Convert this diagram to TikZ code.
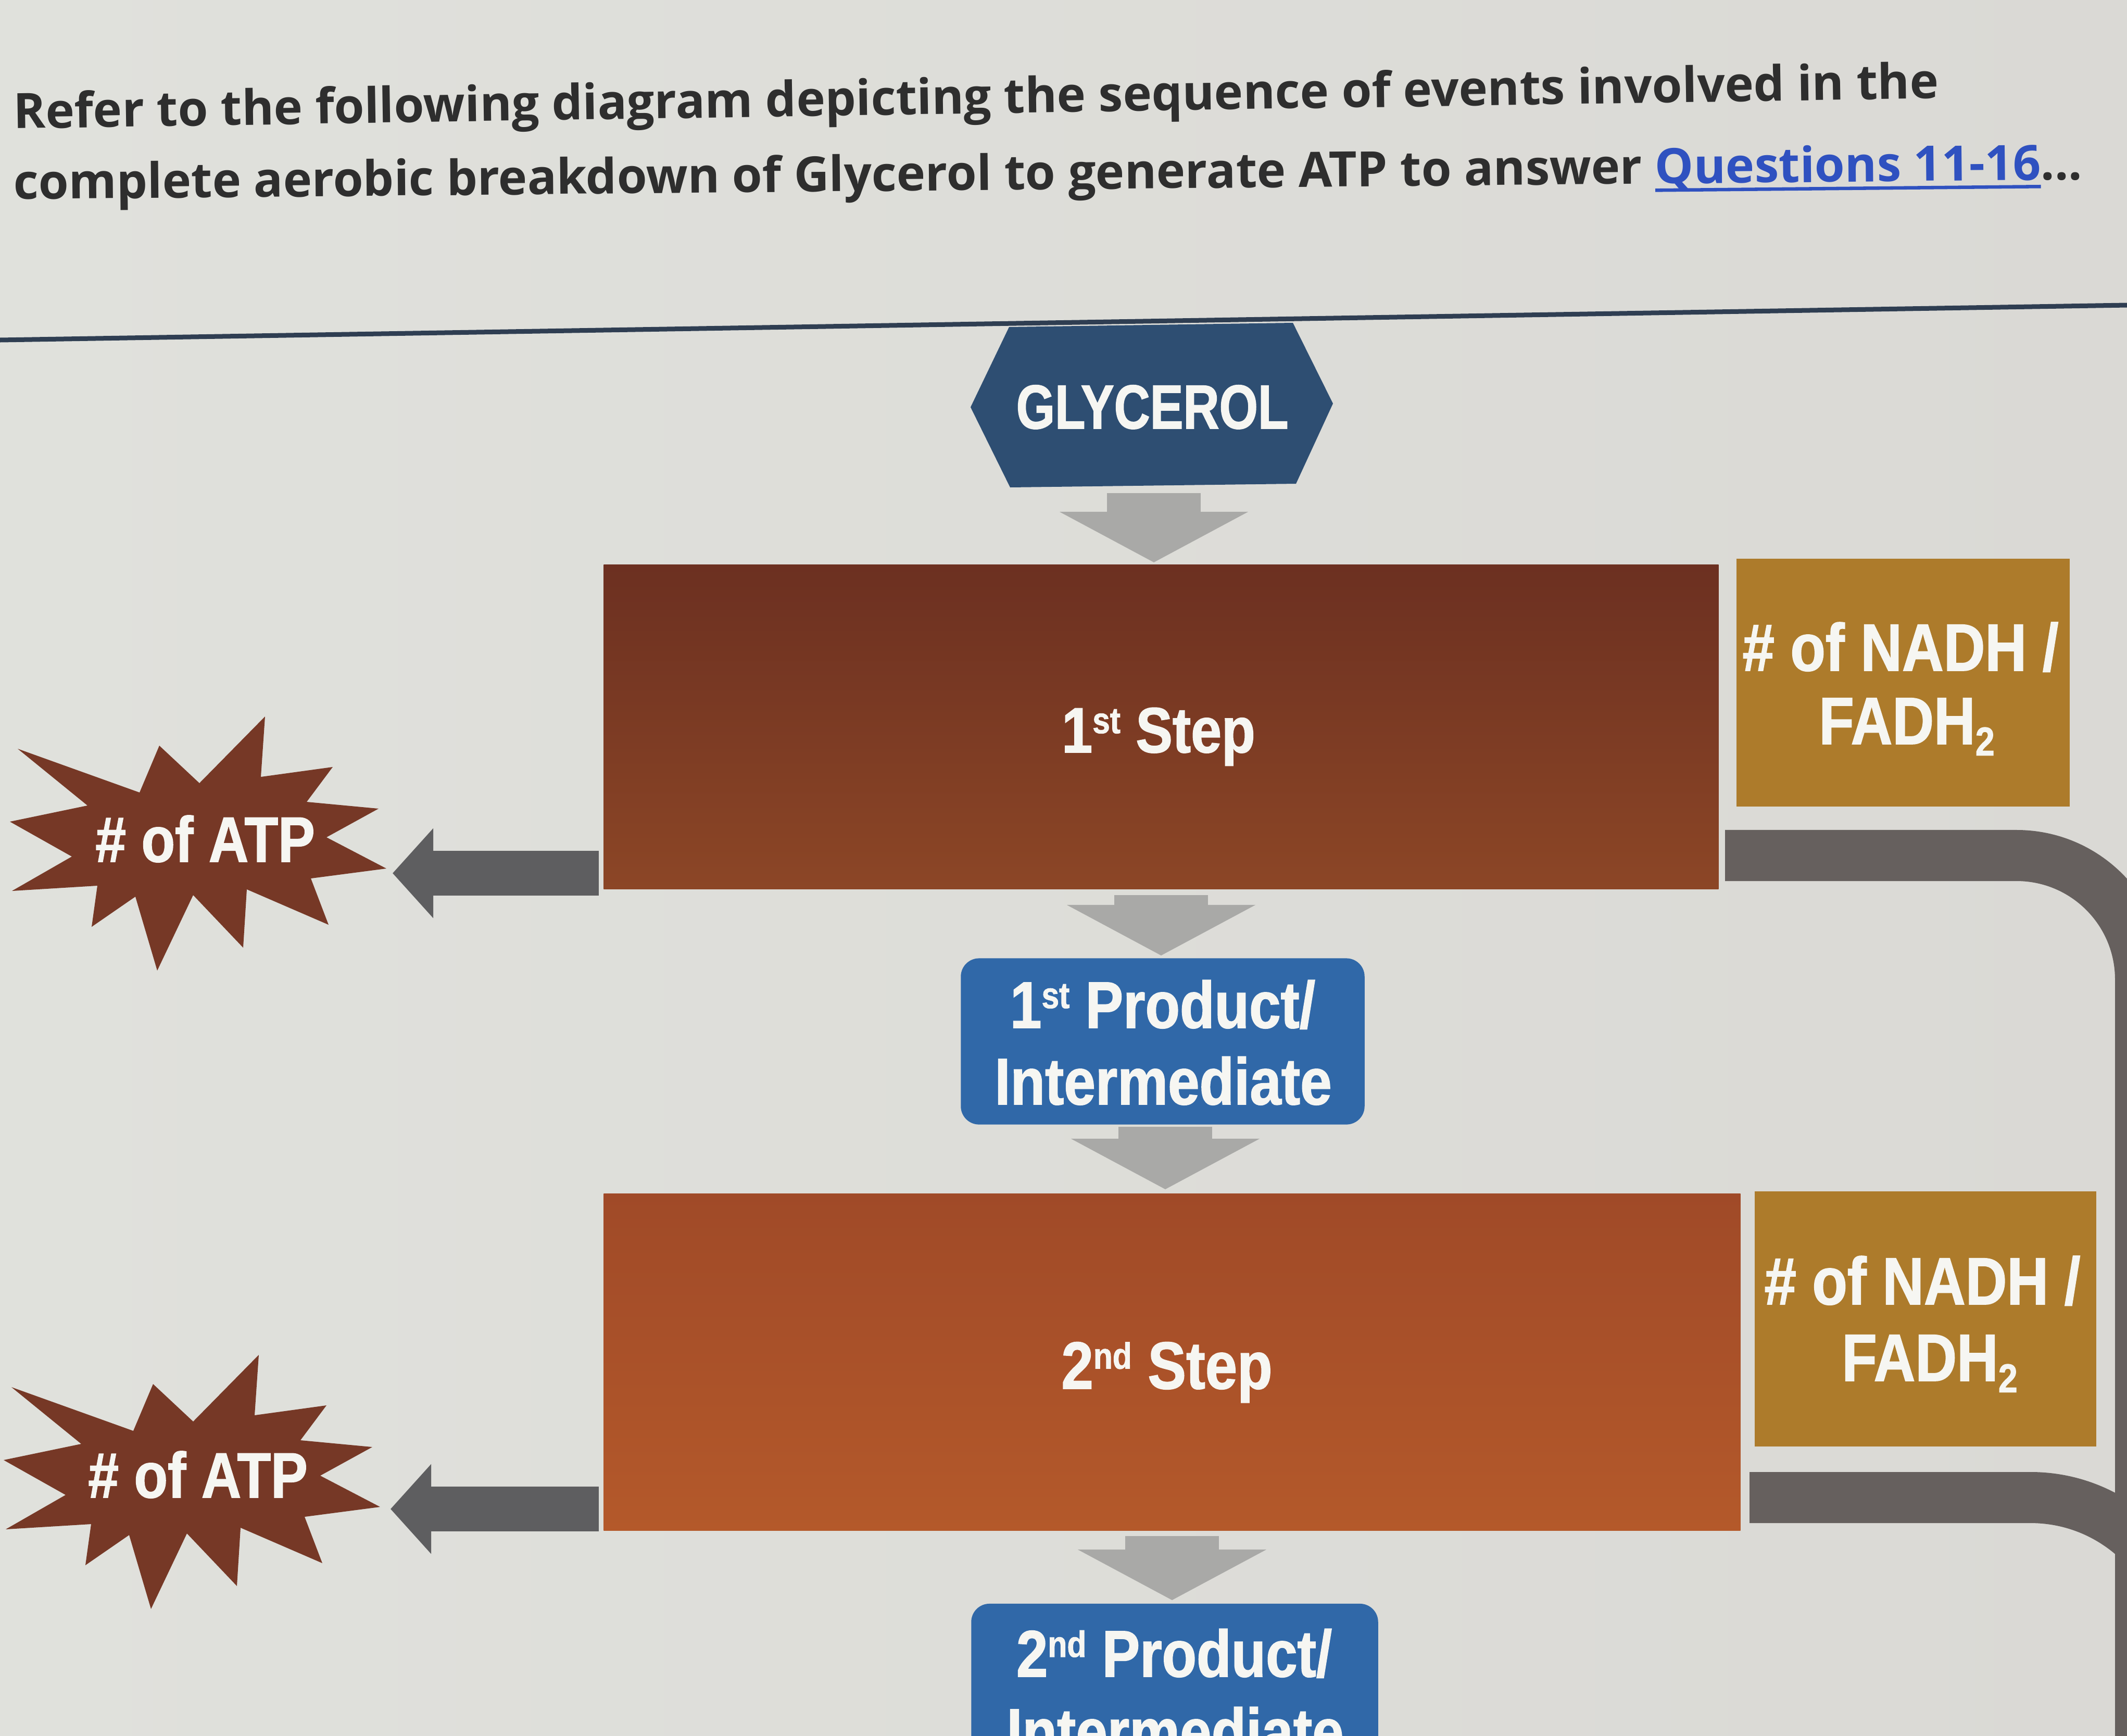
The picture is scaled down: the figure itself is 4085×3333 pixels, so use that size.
\documentclass[tikz,border=0pt]{standalone}
\usepackage{fontspec}
\setmainfont{Liberation Sans}
\newfontfamily\cf[FakeStretch=0.86,FakeBold=1.3]{Liberation Sans}
\newfontfamily\cfg[FakeStretch=0.80,FakeBold=1.3]{Liberation Sans}
\newfontfamily\tf{Open Sans}
\usetikzlibrary{arrows.meta}
\definecolor{bgL}{HTML}{E0E1DC}
\definecolor{bgM}{HTML}{EAEBE7}
\definecolor{bgR}{HTML}{DAD9D5}
\definecolor{tgray}{HTML}{2E2E2E}
\definecolor{linkblue}{HTML}{2F51C0}
\definecolor{navy}{HTML}{2F3E52}
\definecolor{glyc}{HTML}{2E4E72}
\definecolor{s1t}{HTML}{6C3021}
\definecolor{s1b}{HTML}{8C4626}
\definecolor{s2t}{HTML}{A04A28}
\definecolor{s2b}{HTML}{B4592A}
\definecolor{mustard}{HTML}{AD7B2B}
\definecolor{prodblue}{HTML}{3068A8}
\definecolor{arrgray}{HTML}{A9A9A7}
\definecolor{darkarr}{HTML}{5E5E60}
\definecolor{conngray}{HTML}{66605E}
\definecolor{starbrown}{HTML}{763826}
\definecolor{wtext}{HTML}{F6F6F2}
\newcommand\sups[1]{\raisebox{0.3em}{\fontsize{20}{20}\selectfont #1}}
\newcommand\subs[1]{\raisebox{-0.17em}{\fontsize{22}{22}\selectfont #1}}
\newcommand\myul[1]{\sbox0{#1}\rlap{\rule[-0.17em]{\wd0}{0.07em}}\usebox0}
\tikzset{
  titletext/.style={font=\tf\bfseries\fontsize{26.6}{32}\selectfont, text=tgray, inner sep=0pt, anchor=base west},
  lbl/.style={font=\cf\bfseries\fontsize{35}{40}\selectfont, text=wtext, inner sep=0pt, anchor=base},
  lblb/.style={font=\cf\bfseries\fontsize{36.5}{42}\selectfont, text=wtext, inner sep=0pt, anchor=base},
  stepbox/.style={draw=none, inner sep=0pt},
  nadhbox/.style={fill=mustard, inner sep=0pt},
  prodbox/.style={fill=prodblue, rounded corners=0.35cm, inner sep=0pt},
  darr/.style={draw=arrgray, line width=1.8cm, line cap=butt, -{Triangle[length=0.97cm, width=3.58cm]}},
  larr/.style={draw=darkarr, line width=0.86cm, line cap=butt, -{Triangle[length=0.78cm, width=1.68cm]}},
  conn/.style={draw=conngray, line width=0.98cm, line cap=butt},
  star/.style={fill=starbrown}
}
\begin{document}
\begin{tikzpicture}[x=0.01cm,y=-0.01cm]
\useasboundingbox (0,0) rectangle (4085,3333);
\clip (0,0) rectangle (4085,3333);
\shade[left color=bgL, middle color=bgM, right color=bgR] (0,0) rectangle (4085,3333);

% title
\node[titletext, rotate=0.9] (t1) at (26,247) {Refer to the following diagram depicting the sequence of events involved in the};
\node[titletext, rotate=0.55] (t2) at (26,383) {complete aerobic breakdown of Glycerol to generate ATP to answer {\color{linkblue}\myul{Questions 11-16}}...};

% separator line
\coordinate (sepL) at (0,653);
\coordinate (sepR) at (4085,586);
\draw[navy, line width=0.09cm] (sepL) -- (sepR);

% glycerol hexagon
\fill[glyc] (1938,628) -- (2483,620) -- (2560,775) -- (2489,929) -- (1940,936) -- (1864,782) -- cycle;
\node[lbl, font=\cfg\bfseries\fontsize{34}{40}\selectfont] (gly) at (2213,823) {GLYCEROL};

% step 1
\node[stepbox, top color=s1t, bottom color=s1b, minimum width=21.4cm, minimum height=6.23cm] (step1) at (2230,1396) {};
\node[lbl] (step1l) at (2225,1445) {1\sups{st} Step};

% NADH 1
\node[nadhbox, minimum width=6.39cm, minimum height=4.76cm] (nadh1) at (3655,1311) {};
\node[lblb] (nadh1a) at (3650,1288) {\# of NADH /};
\node[lblb] (nadh1b) at (3662,1429) {FADH\subs{2}};

% product 1
\node[prodbox, minimum width=7.75cm, minimum height=3.19cm] (prod1) at (2233,2000) {};
\node[lblb, font=\cf\bfseries\fontsize{36}{42}\selectfont] (prod1a) at (2233,1974) {1\sups{st} Product/};
\node[lblb, font=\cf\bfseries\fontsize{36}{42}\selectfont] (prod1b) at (2234,2121) {Intermediate};

% step 2
\node[stepbox, top color=s2t, bottom color=s2b, minimum width=21.82cm, minimum height=6.47cm] (step2) at (2251,2616) {};
\node[lblb] (step2l) at (2241,2667) {2\sups{nd} Step};

% NADH 2
\node[nadhbox, minimum width=6.56cm, minimum height=4.9cm] (nadh2) at (3698,2533) {};
\node[lblb] (nadh2a) at (3692,2505) {\# of NADH /};
\node[lblb] (nadh2b) at (3706,2652) {FADH\subs{2}};

% product 2
\node[prodbox, minimum width=7.81cm, minimum height=3.4cm] (prod2) at (2256,3250) {};
\node[lblb, font=\cf\bfseries\fontsize{36}{42}\selectfont] (prod2a) at (2255,3220) {2\sups{nd} Product/};
\node[lblb, font=\cf\bfseries\fontsize{36}{42}\selectfont] (prod2b) at (2257,3370) {Intermediate};

% stars
\fill[star] (509,1376) -- (501,1492) -- (639,1473) -- (589,1540) -- (727,1553) -- (627,1608) -- (742,1668) -- (597,1687) -- (631,1776) -- (474,1708) -- (467,1820) -- (371,1719) -- (302,1864) -- (260,1722) -- (176,1780) -- (187,1701) -- (23,1711) -- (138,1645) -- (19,1578) -- (168,1547) -- (34,1438) -- (268,1522) -- (306,1432) -- (383,1504) -- cycle;
\node[lbl] (atp1) at (394,1655) {\# of ATP};
\begin{scope}[shift={(-12,1226)}]
\fill[star] (509,1376) -- (501,1492) -- (639,1473) -- (589,1540) -- (727,1553) -- (627,1608) -- (742,1668) -- (597,1687) -- (631,1776) -- (474,1708) -- (467,1820) -- (371,1719) -- (302,1864) -- (260,1722) -- (176,1780) -- (187,1701) -- (23,1711) -- (138,1645) -- (19,1578) -- (168,1547) -- (34,1438) -- (268,1522) -- (306,1432) -- (383,1504) -- cycle;
\end{scope}
\node[lbl] (atp2) at (380,2876) {\# of ATP};

% down arrows
\coordinate (a1s) at (2216,947);  \coordinate (a1e) at (2216,1080);
\coordinate (a2s) at (2230,1719); \coordinate (a2e) at (2230,1835);
\coordinate (a3s) at (2238,2164); \coordinate (a3e) at (2238,2284);
\coordinate (a4s) at (2251,2950); \coordinate (a4e) at (2251,3073);
\draw[darr] (a1s) -- (a1e);
\draw[darr] (a2s) -- (a2e);
\draw[darr] (a3s) -- (a3e);
\draw[darr] (a4s) -- (a4e);

% left arrows to ATP stars
\coordinate (l1s) at (1150,1677); \coordinate (l1e) at (754,1677);
\coordinate (l2s) at (1150,2898); \coordinate (l2e) at (750,2898);
\draw[larr] (l1s) -- (l1e);
\draw[larr] (l2s) -- (l2e);

% right connectors
\coordinate (c1s) at (3313,1643); \coordinate (c1k) at (4111,1643); \coordinate (c1e) at (4111,3400);
\coordinate (c2s) at (3360,2876); \coordinate (c2k) at (4200,2876); \coordinate (c2e) at (4200,3400);
\draw[conn, rounded corners=2.38cm] (c1s) -- (c1k) -- (c1e);
\draw[conn, rounded corners=3cm] (c2s) -- (c2k) -- (c2e);
\end{tikzpicture}
\end{document}
